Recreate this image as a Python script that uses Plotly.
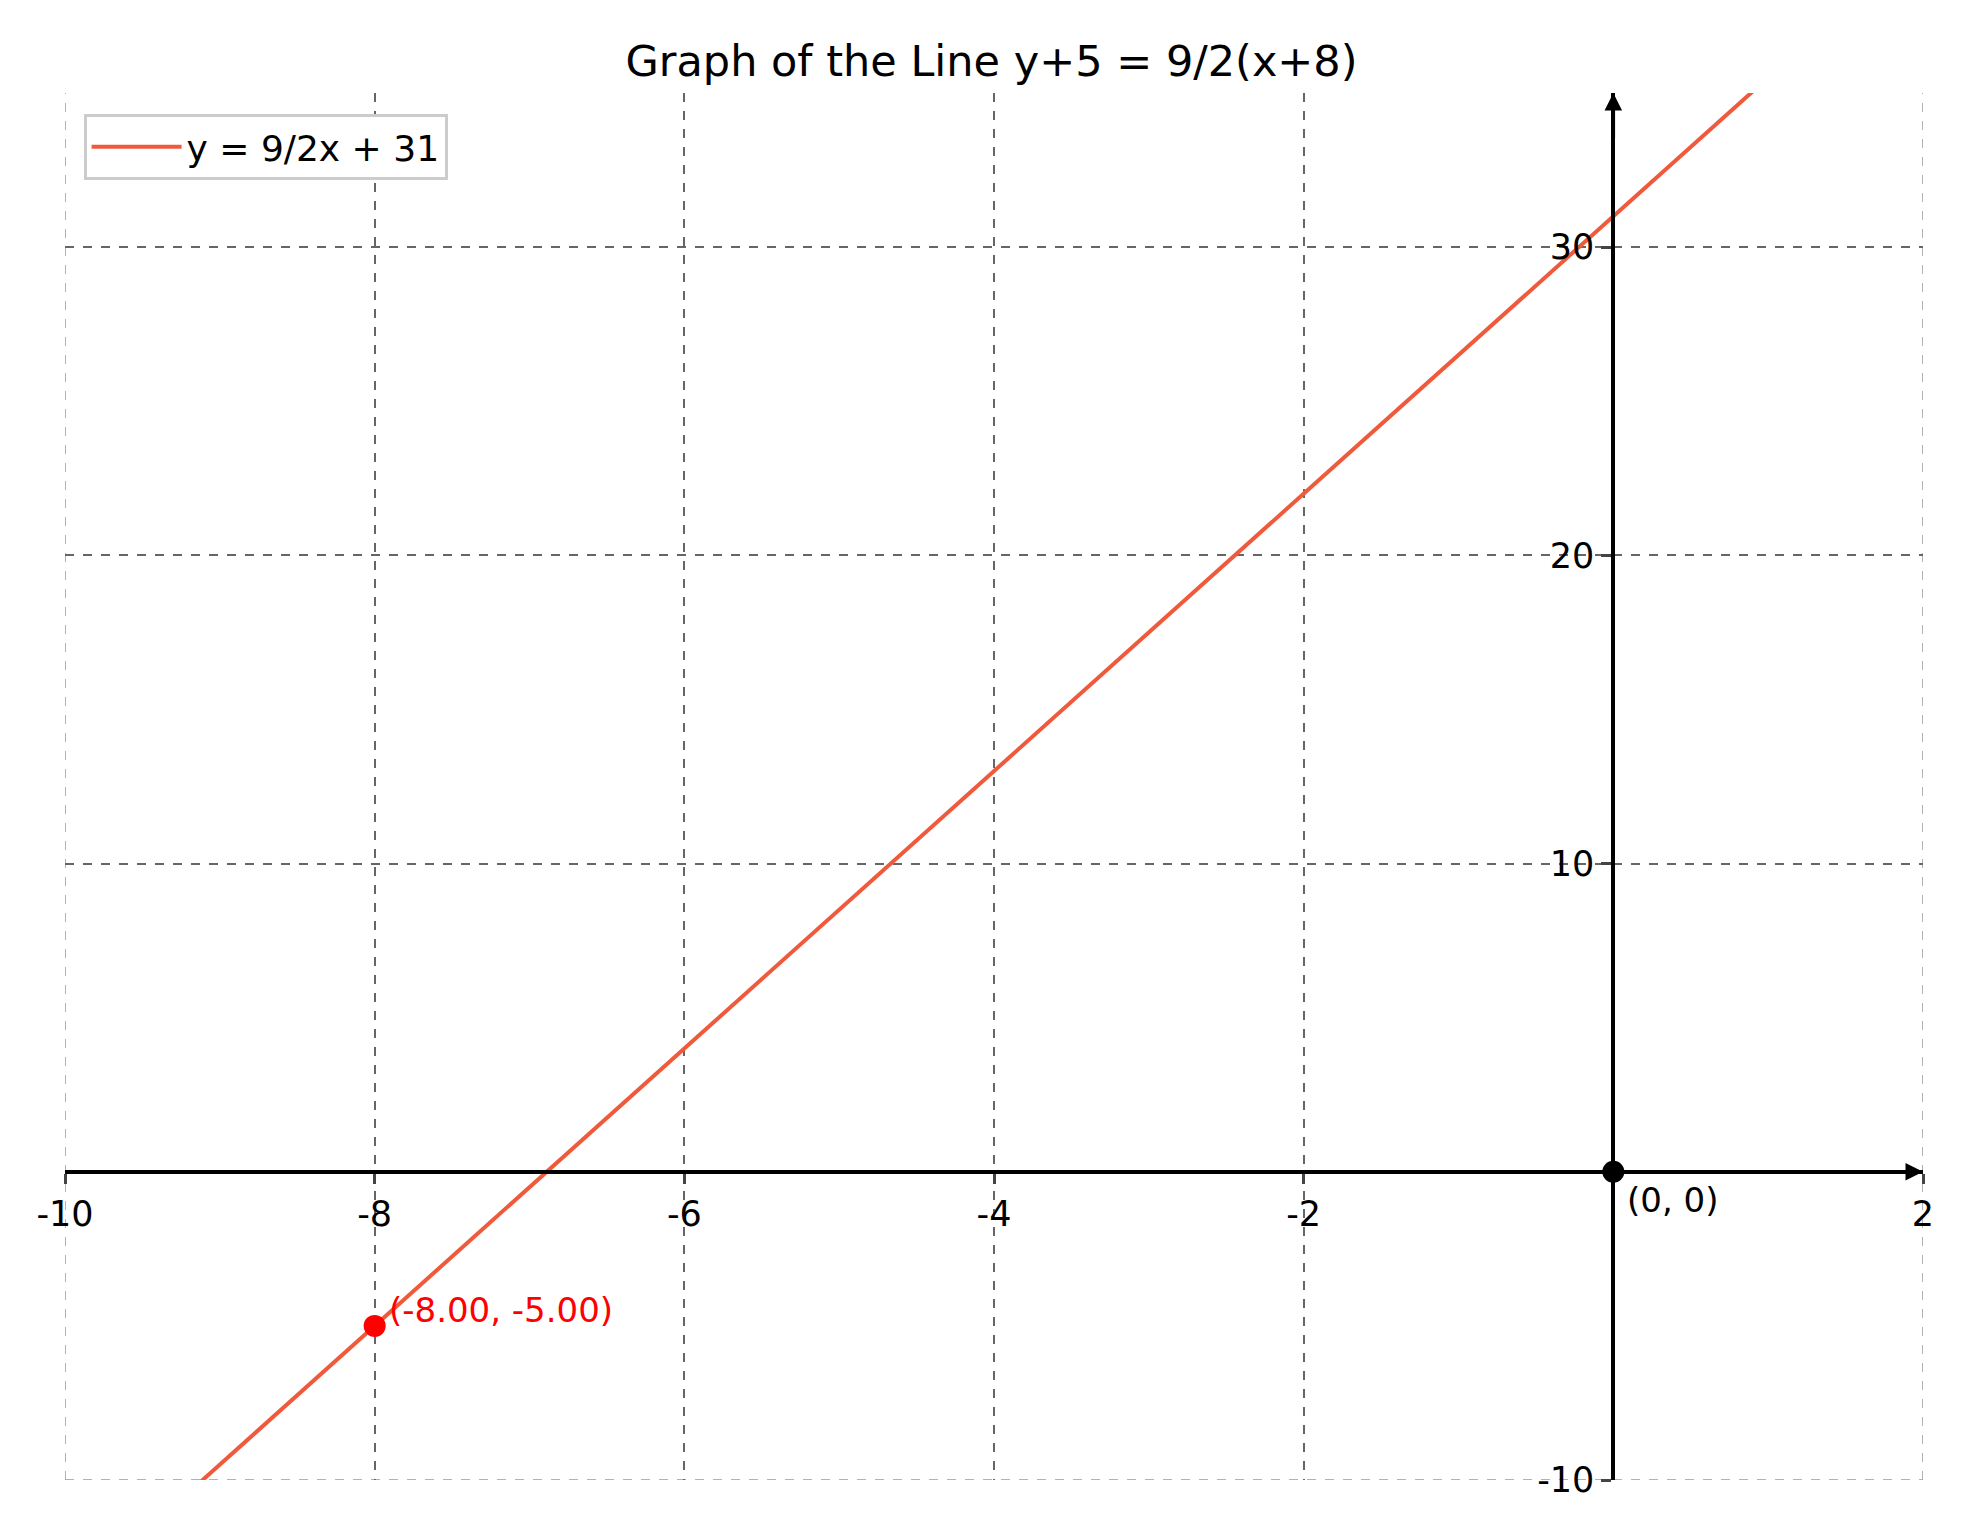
import plotly.graph_objects as go

line_x = [-10, 2]
slope, intercept = 4.5, 31
line_y = [slope * v + intercept for v in line_x]
pt_x, pt_y = [-8], [-5]
origin_x, origin_y = [0], [0]
xticks = [-10, -8, -6, -4, -2, 2]
yticks = [-10, 10, 20, 30]

F = "DejaVu Sans"
fig = go.Figure()
fig.add_trace(go.Scatter(x=line_x, y=line_y, mode="lines", name="y = 9/2x + 31",
                         line=dict(color="#f05a3c", width=4)))
fig.add_trace(go.Scatter(x=pt_x, y=pt_y, mode="markers", showlegend=False,
                         marker=dict(color="red", size=22)))
fig.add_trace(go.Scatter(x=origin_x, y=origin_y, mode="markers", showlegend=False,
                         marker=dict(color="black", size=22)))
fig.add_annotation(x=pt_x[0], y=pt_y[0], text="(-8.00, -5.00)", showarrow=False,
                   xanchor="left", yanchor="bottom", xshift=12, yshift=-6,
                   font=dict(color="red", size=34, family=F))
fig.add_annotation(x=origin_x[0], y=origin_y[0], text="(0, 0)", showarrow=False,
                   xanchor="left", yanchor="top", xshift=12, yshift=-6,
                   font=dict(color="black", size=34, family=F))
for a in [dict(x=2, y=0, ax=1.6, ay=0), dict(x=0, y=35, ax=0, ay=33.5)]:
    fig.add_annotation(**a, xref="x", yref="y", axref="x", ayref="y", text="",
                       showarrow=True, arrowhead=2, arrowsize=1, arrowwidth=3.5, arrowcolor="black")
# edge grid lines
for sx in [-10, 2]:
    fig.add_shape(type="line", x0=sx, x1=sx, y0=-10, y1=35, xref="x", yref="y",
                  line=dict(color="#999", width=1.5, dash="dash"), layer="below")
fig.add_shape(type="line", x0=-10, x1=2, y0=-10, y1=-10, xref="x", yref="y",
              line=dict(color="#999", width=1.5, dash="dash"), layer="below")

fig.update_layout(
    width=1967, height=1534, plot_bgcolor="white", paper_bgcolor="white",
    margin=dict(l=57, r=52, t=85, b=62),
    font=dict(family=F, size=35, color="black"),
    title=dict(text="Graph of the Line y+5 = 9/2(x+8)", x=0.5, y=0.975, xanchor="center",
               font=dict(size=43, family=F)),
    legend=dict(x=0.01, y=0.985, xanchor="left", yanchor="top", bordercolor="#cccccc",
                borderwidth=3, bgcolor="white", font=dict(size=36), itemwidth=90),
    xaxis=dict(range=[-10, 2], tickvals=xticks, ticktext=[str(v) for v in xticks],
               anchor="free", position=10/45, showline=True, linecolor="black", linewidth=4,
               ticks="outside", ticklen=10, tickwidth=2.5, showgrid=True, gridcolor="#666",
               griddash="dash", gridwidth=2, zeroline=False),
    yaxis=dict(range=[-10, 35], tickvals=yticks, ticktext=[str(v) for v in yticks],
               anchor="free", position=10/12, showline=True, linecolor="black", linewidth=4,
               ticks="outside", ticklen=10, tickwidth=2.5, showgrid=True, gridcolor="#666",
               griddash="dash", gridwidth=2, zeroline=False),
)
fig.write_html("out.html")
